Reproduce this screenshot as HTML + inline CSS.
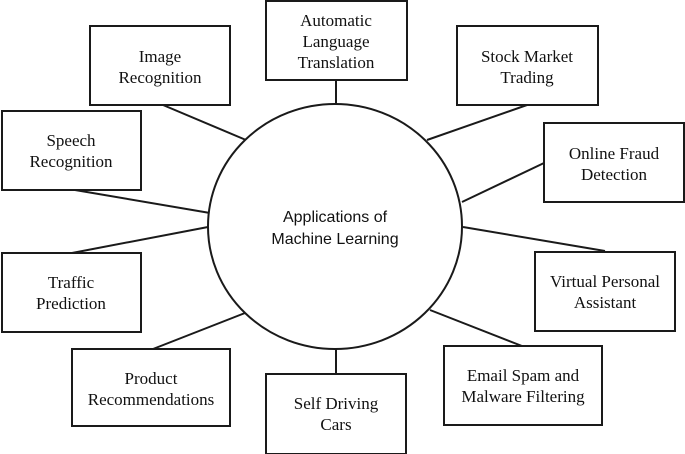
<!DOCTYPE html>
<html><head><style>
body{margin:0;background:#fff;}
svg{display:block}
.b{fill:#fff;stroke:#1a1a1a;stroke-width:2}
.t{font-family:"Liberation Serif",serif;font-size:17px;fill:#111;text-anchor:middle}
.s{font-family:"Liberation Sans",sans-serif;font-size:16px;fill:#111;text-anchor:middle}
line{stroke:#1a1a1a;stroke-width:2}
</style></head><body>
<svg width="685" height="454" viewBox="0 0 685 454">
<line x1="163" y1="105" x2="246" y2="140"/>
<line x1="75" y1="190" x2="210" y2="213"/>
<line x1="336" y1="80" x2="336" y2="104"/>
<line x1="527" y1="105" x2="427" y2="140"/>
<line x1="544" y1="163" x2="462" y2="202"/>
<line x1="463" y1="227" x2="605" y2="251"/>
<line x1="430" y1="310" x2="522" y2="346"/>
<line x1="336" y1="349" x2="336" y2="374"/>
<line x1="245" y1="313" x2="153" y2="349"/>
<line x1="208" y1="227" x2="72" y2="253"/>
<ellipse cx="335" cy="226.5" rx="127" ry="122.5" class="b"/>
<text class="s" x="335" y="222">Applications of</text>
<text class="s" x="335" y="244">Machine Learning</text>

<rect class="b" x="90" y="26" width="140" height="79"/>
<text class="t" x="160" y="62">Image</text><text class="t" x="160" y="83">Recognition</text>
<rect class="b" x="2" y="111" width="139" height="79"/>
<text class="t" x="71" y="146">Speech</text><text class="t" x="71" y="167">Recognition</text>
<rect class="b" x="266" y="1" width="141" height="79"/>
<text class="t" x="336" y="26">Automatic</text><text class="t" x="336" y="47">Language</text><text class="t" x="336" y="68">Translation</text>
<rect class="b" x="457" y="26" width="141" height="79"/>
<text class="t" x="527" y="62">Stock Market</text><text class="t" x="527" y="83">Trading</text>
<rect class="b" x="544" y="123" width="140" height="79"/>
<text class="t" x="614" y="159">Online Fraud</text><text class="t" x="614" y="180">Detection</text>
<rect class="b" x="2" y="253" width="139" height="79"/>
<text class="t" x="71" y="288">Traffic</text><text class="t" x="71" y="309">Prediction</text>
<rect class="b" x="535" y="252" width="140" height="79"/>
<text class="t" x="605" y="287">Virtual  Personal</text><text class="t" x="605" y="308">Assistant</text>
<rect class="b" x="72" y="349" width="158" height="77"/>
<text class="t" x="151" y="384">Product</text><text class="t" x="151" y="405">Recommendations</text>
<rect class="b" x="266" y="374" width="140" height="80"/>
<text class="t" x="336" y="409">Self Driving</text><text class="t" x="336" y="430">Cars</text>
<rect class="b" x="444" y="346" width="158" height="79"/>
<text class="t" x="523" y="381">Email Spam and</text><text class="t" x="523" y="402">Malware Filtering</text>
</svg>
</body></html>
